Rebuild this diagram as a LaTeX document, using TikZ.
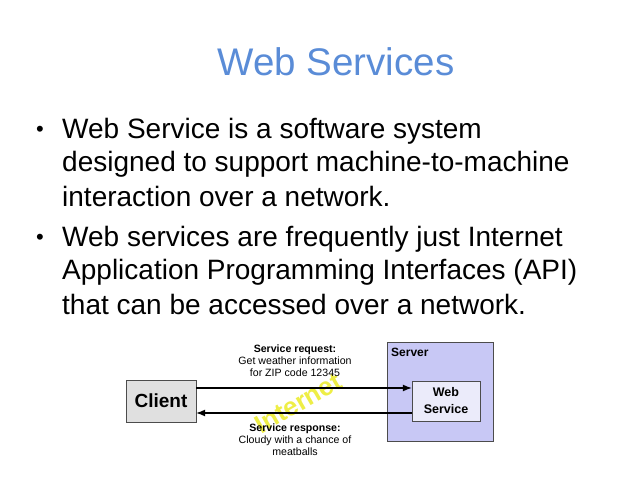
\documentclass[tikz,border=0pt]{standalone}
\usepackage{fontspec}
\setmainfont{Liberation Sans}
\usetikzlibrary{arrows.meta}
\begin{document}
\begin{tikzpicture}[x=1pt,y=-1pt,
  body/.style={anchor=west,font=\fontsize{28}{28}\selectfont,inner sep=0pt},
  bul/.style={anchor=center,font=\fontsize{22}{22}\selectfont,inner sep=0pt},
  small/.style={font=\fontsize{10.6}{12}\selectfont,align=center,inner sep=0pt},
  arr/.style={draw,line width=1.2pt,-{Latex[length=9pt,width=7pt]}}]
\useasboundingbox (0,0) rectangle (638,478);
\node[font=\fontsize{38.5}{38}\selectfont,text={rgb,255:red,90;green,140;blue,215}] (title) at (336,62) {Web Services};
\node[bul] (b1) at (40,131) {•};
\node[body] (l1) at (62,131) {Web Service is a software system};
\node[body] (l2) at (62,164) {designed to support machine-to-machine};
\node[body] (l3) at (62,196) {interaction over a network.};
\node[bul] (b2) at (40,239) {•};
\node[body] (l4) at (62,239) {Web services are frequently just Internet};
\node[body] (l5) at (62,272) {Application Programming Interfaces (API)};
\node[body] (l6) at (62,304) {that can be accessed over a network.};
\node[draw=black!70,fill={rgb,255:red,200;green,200;blue,245},minimum width=106pt,minimum height=99pt,inner sep=0pt] (server) at (440,391.5) {};
\node[anchor=north west,font=\bfseries\fontsize{12}{12}\selectfont,inner sep=0pt] (stxt) at (391,348) {Server};
\node[draw=black!70,fill={rgb,255:red,235;green,235;blue,250},minimum width=68pt,minimum height=40pt,inner sep=0pt,font=\bfseries\fontsize{12.5}{17}\selectfont,align=center] (ws) at (446,401) {Web\\Service};
\node[draw=black!70,fill=black!12,minimum width=70pt,minimum height=42pt,inner sep=0pt,font=\bfseries\fontsize{19}{19}\selectfont] (client) at (161,401) {Client};
\node[rotate=30,font=\bfseries\fontsize{26}{26}\selectfont,text={rgb,255:red,238;green,238;blue,70}] (inet) at (298,403) {Internet};
\draw[arr] (client.east|-0,388) -- (ws.west|-0,388);
\draw[arr] (ws.west|-0,413) -- (client.east|-0,413);
\node[small] (req) at (295,361) {\textbf{Service request:}\\Get weather information\\for ZIP code 12345};
\node[small] (resp) at (295,440) {\textbf{Service response:}\\Cloudy with a chance of\\meatballs};
\end{tikzpicture}
\end{document}
